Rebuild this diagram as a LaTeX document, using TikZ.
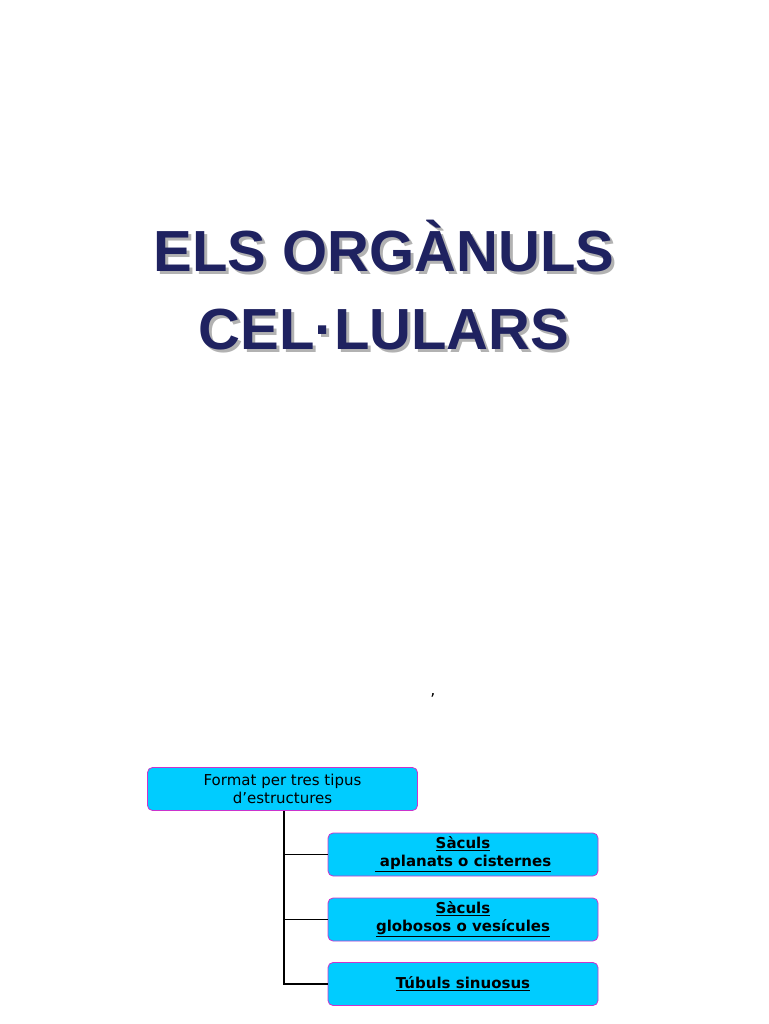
\documentclass[tikz,border=0pt]{standalone}
\usepackage{fontspec}
\setmainfont{DejaVu Sans}
\newfontfamily\titlefont{Liberation Sans}
\definecolor{navy}{HTML}{1F2260}
\definecolor{boxcyan}{HTML}{00CCFF}
\definecolor{boxedge}{HTML}{CC33CC}
\begin{document}
\begin{tikzpicture}[x=1pt,y=-1pt,
  cbox/.style={draw=boxedge,fill=boxcyan,rounded corners=5pt,line width=0.8pt,minimum height=43pt,minimum width=270pt,align=center,font=\fontsize{15}{18}\selectfont,inner sep=2pt},
  link/.style={line width=1.6pt}]
\useasboundingbox (0,0) rectangle (768,1024);
\foreach \t/\y in {{ELS ORGÀNULS}/246,{CEL·LULARS}/330}{
  \node[font=\titlefont\bfseries\fontsize{58}{66}\selectfont,text=gray!60] at (387,\y+3) {\t};
  \node[font=\titlefont\bfseries\fontsize{58}{66}\selectfont,text=navy] at (384,\y) {\t};
}
\node[font=\fontsize{16}{18}\selectfont] (comma) at (433,695) {,};
\node[cbox] (top) at (282.5,789) {Format per tres tipus\\d’estructures};
\node[cbox,font=\bfseries\fontsize{15}{18}\selectfont] (b1) at (463,854.5) {\underline{Sàculs}\\\underline{ aplanats o cisternes}};
\node[cbox,font=\bfseries\fontsize{15}{18}\selectfont] (b2) at (463,919.5) {\underline{Sàculs}\\\underline{globosos o vesícules}};
\node[cbox,font=\bfseries\fontsize{15}{18}\selectfont] (b3) at (463,984) {\underline{Túbuls sinuosus}};
\coordinate (c1) at (284,854.5);
\coordinate (c2) at (284,919.5);
\coordinate (c3) at (284,984);
\draw[link] (top.south -| c1) -- (c3) -- (b3.west);
\draw[link] (c1) -- (b1.west);
\draw[link] (c2) -- (b2.west);
\end{tikzpicture}
\end{document}
